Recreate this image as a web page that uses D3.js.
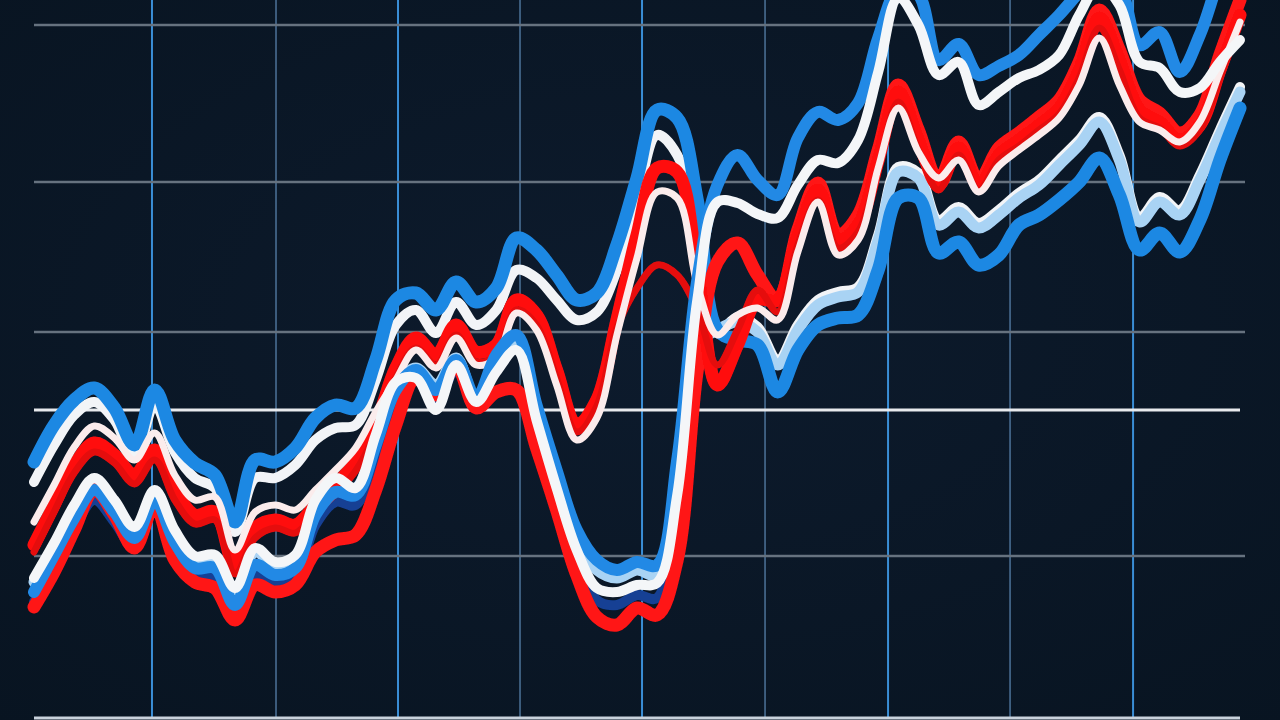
<!DOCTYPE html>
<html><head><meta charset="utf-8">
<script src="https://cdn.jsdelivr.net/npm/d3@7"></script>
<style>html,body{margin:0;padding:0;background:#0b1828;overflow:hidden}</style>
</head><body>
<svg id="chart" width="1280" height="720"></svg>
<script>
// ---- data ----
const periods = d3.range(61);                 // sample index (x categories)
const gridPeriods = [5.87, 12.04, 18.11, 24.18, 30.25, 36.37, 42.49, 48.56, 54.68];
const gridValues = [693, 536, 386, 162];       // grey horizontal reference levels
const baselineValue = 308;                     // white reference level
const floorValue = 0;

const blueTop = [256,293,318,330,310,273,328,278,255,243,196,258,256,270,300,313,310,358,418,425,408,436,416,430,480,468,443,418,425,473,540,608,600,518,388,378,373,326,368,393,400,403,448,520,520,465,476,453,463,493,503,518,536,560,523,468,485,466,498,558,610];
const whiteTop = [236,273,303,316,298,260,313,266,240,230,186,240,240,253,278,290,293,338,393,408,385,416,393,408,448,440,418,398,406,448,518,583,563,486,386,401,391,358,393,418,426,431,483,551,545,498,511,495,508,525,538,558,578,601,563,501,521,508,543,588,631];
const lightBlue = [136,170,208,236,213,188,223,183,158,158,128,166,153,158,213,236,230,280,333,350,333,360,318,358,373,306,240,178,148,140,148,143,238,373,388,396,386,353,388,413,421,426,478,546,540,493,506,490,503,520,533,553,573,596,558,496,516,503,538,583,626];
const blueLow = [126,163,200,228,206,180,218,176,150,150,113,153,143,150,203,226,223,273,328,348,328,358,320,363,383,313,248,188,158,148,156,153,258,438,533,563,538,523,580,606,598,615,680,728,723,658,674,643,652,663,683,703,726,748,733,673,686,646,683,743,798];
const whiteLow = [140,175,213,240,218,191,228,188,162,163,130,170,156,163,218,240,230,283,336,340,308,353,316,346,368,298,230,168,130,126,133,135,223,418,516,515,504,500,533,558,555,578,646,720,693,643,656,613,626,640,648,663,703,733,713,656,650,626,630,656,678];
const navy = [116,153,190,218,196,170,208,166,140,140,103,143,133,140,193,216,213,263,318,338,318,348,310,353,373,293,226,168,118,113,123,120,238,373,388,396,386,353,388,413,421,426,478,546,540,493,506,490,503,520,533,553,573,596,558,496,516,503,538,583,626];
const redLow = [111,146,188,228,203,170,213,158,136,130,98,133,126,133,166,178,183,228,293,340,323,353,310,326,328,270,208,143,101,93,110,103,158,348,456,475,443,418,488,535,483,503,568,633,588,538,576,538,570,585,601,618,656,708,668,618,605,585,603,663,718];
const redUpper = [173,213,253,275,263,243,268,228,203,206,153,190,198,193,213,233,256,293,350,380,363,393,366,373,418,403,348,293,318,398,483,550,546,448,333,373,418,418,483,528,478,493,558,626,578,533,570,533,563,578,593,610,648,700,658,608,596,578,593,648,703];
const redThin = [166,206,245,266,255,234,258,218,194,198,144,180,190,185,205,224,247,285,340,370,353,383,356,363,408,393,340,286,312,390,430,453,443,408,353,388,428,406,473,518,470,486,550,616,568,528,563,528,558,572,588,604,640,690,648,600,590,572,588,640,696];
const whiteThin = [196,233,271,292,280,258,285,243,218,221,168,206,213,208,228,248,270,306,338,368,350,380,353,360,405,388,333,278,300,383,460,526,520,433,383,403,410,398,466,516,463,478,550,610,566,540,558,526,552,568,583,600,633,680,633,596,588,576,596,646,696];

const series = [
  {values: navy,      color: '#143f94', width: 10},
  {values: whiteTop,  color: '#f2f4f7', width: 10},
  {values: lightBlue, color: '#a9d3f4', width: 11},
  {values: blueTop,   color: '#1f88e3', width: 13},
  {values: redLow,    color: '#ff1414', width: 13},
  {values: redUpper,  color: '#ff1111', width: 13},
  {values: redThin,   color: '#e51010', width: 7},
  {values: whiteThin, color: '#fbecec', width: 7},
  {values: blueLow,   color: '#2189e5', width: 12},
  {values: whiteLow,  color: '#f4f6f8', width: 10}
];

// ---- drawing ----
const svg = d3.select('#chart');
const W = 1280, H = 720;
const x = d3.scaleLinear().domain([0, 60]).range([34, 1240]);
const y = d3.scaleLinear().domain([0, 718]).range([718, 0]);

const defs = svg.append('defs');
const bg = defs.append('radialGradient').attr('id', 'bg').attr('cx', '50%').attr('cy', '45%').attr('r', '75%');
bg.append('stop').attr('offset', '0%').attr('stop-color', '#0d1b2d');
bg.append('stop').attr('offset', '100%').attr('stop-color', '#081421');
defs.append('filter').attr('id', 'soft').append('feGaussianBlur').attr('stdDeviation', 0.6);
svg.append('rect').attr('width', W).attr('height', H).attr('fill', 'url(#bg)');

// vertical grid
svg.append('g').selectAll('line').data(gridPeriods).join('line')
  .attr('x1', d => x(d)).attr('x2', d => x(d))
  .attr('y1', 0).attr('y2', y(floorValue))
  .attr('stroke', (d, i) => i % 2 === 0 ? '#3a8ed6' : '#4d7399')
  .attr('stroke-width', (d, i) => i % 2 === 0 ? 2 : 1.5);

// horizontal grid
svg.append('g').selectAll('line').data(gridValues).join('line')
  .attr('x1', x(0)).attr('x2', x(60) + 5)
  .attr('y1', d => y(d)).attr('y2', d => y(d))
  .attr('stroke', '#66727f').attr('stroke-width', 2.5);

svg.append('line')
  .attr('x1', x(0)).attr('x2', x(60))
  .attr('y1', y(baselineValue)).attr('y2', y(baselineValue))
  .attr('stroke', '#e8eaed').attr('stroke-width', 3);

svg.append('line')
  .attr('x1', x(0)).attr('x2', x(60))
  .attr('y1', y(floorValue)).attr('y2', y(floorValue))
  .attr('stroke', '#c9d2dc').attr('stroke-width', 3);

const line = d3.line()
  .x((d, i) => x(periods[i]))
  .y(d => y(d))
  .curve(d3.curveCatmullRom.alpha(0.5));

svg.append('g').attr('filter', 'url(#soft)')
  .selectAll('path').data(series).join('path')
  .attr('d', d => line(d.values))
  .attr('fill', 'none')
  .attr('stroke', d => d.color)
  .attr('stroke-width', d => d.width)
  .attr('stroke-linecap', 'round')
  .attr('stroke-linejoin', 'round');
</script>
</body></html>
